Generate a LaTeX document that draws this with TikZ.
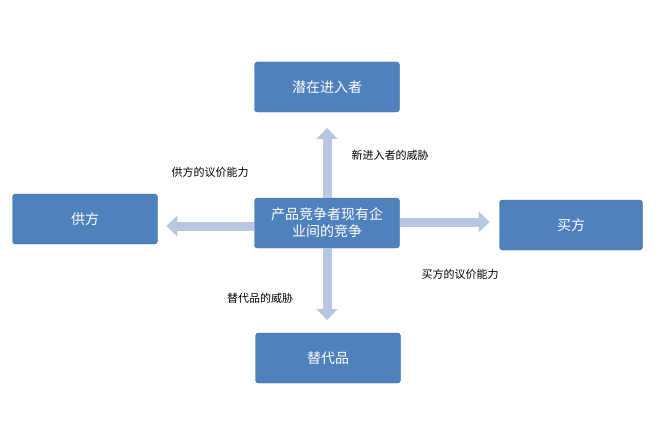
\documentclass[tikz,border=0pt]{standalone}
\usepackage{fontspec}
\setmainfont{Noto Sans CJK SC}
\usetikzlibrary{positioning,arrows.meta}
\definecolor{boxblue}{HTML}{4F81BD}
\definecolor{arrowblue}{HTML}{B7C7DF}
\tikzset{
  box/.style={draw=boxblue!80!black, fill=boxblue, rounded corners=3pt, text=white,
    minimum width=145pt, minimum height=50pt, inner sep=2pt, font=\fontsize{14}{17}\selectfont, align=center},
  fat/.style={draw=arrowblue, line width=9pt, -{Triangle[width=20pt,length=11pt]}},
  lbl/.style={font=\fontsize{11}{13}\selectfont}
}
\begin{document}
\begin{tikzpicture}[x=1pt,y=-1pt]
\useasboundingbox (0,0) rectangle (660,425);
\node[box] (center) at (327,223) {产品竞争者现有企\\业间的竞争};
\node[box] (top) at (327,87) {潜在进入者};
\node[box] (left) at (85,219) {供方};
\node[box, minimum width=143pt] (right) at (571,225) {买方};
\node[box] (bottom) at (328,358) {替代品};
% block arrows
\draw[fat] (center.north) -- ++(0,-70);
\draw[fat] ([yshift=-3pt]center.west) -- ++(-88,0);
\draw[fat] ([yshift=1pt]center.east) -- ++(90,0);
\draw[fat] (center.south) -- ++(0,72);
% labels
\node[lbl] (newthreat) at (390,155) {新进入者的威胁};
\node[lbl] (supplier) at (210,172) {供方的议价能力};
\node[lbl] (buyer) at (460,274) {买方的议价能力};
\node[lbl] (subst) at (260,298) {替代品的威胁};
\end{tikzpicture}
\end{document}
